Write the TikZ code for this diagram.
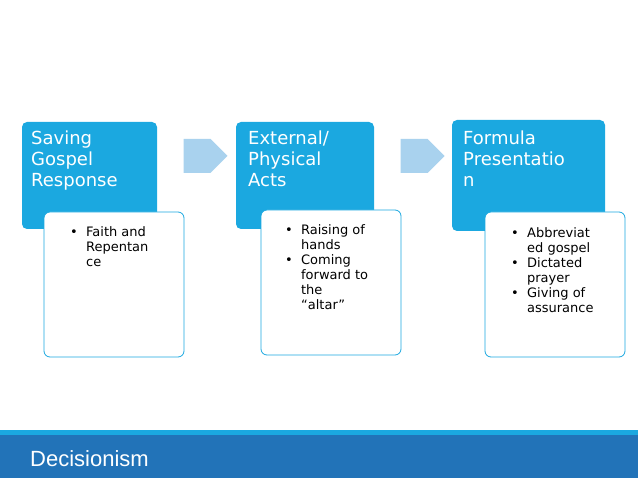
\documentclass[tikz,border=0pt]{standalone}
\usepackage{fontspec}
\setmainfont{DejaVu Sans}
\newfontfamily\arialf{Liberation Sans}
\usetikzlibrary{shapes.arrows}
\definecolor{cblue}{HTML}{1BA8E0}
\definecolor{barblue}{HTML}{2273B8}
\definecolor{arrblue}{HTML}{A9D2EE}
\begin{document}
\begin{tikzpicture}[x=1pt,y=-1pt,
  bluebox/.style={fill=cblue,rounded corners=5pt,anchor=north west,inner sep=0pt},
  whitebox/.style={fill=white,draw=cblue,line width=0.8pt,rounded corners=6pt},
  ttl/.style={anchor=north west,align=left,text=white,font=\fontsize{18}{21}\selectfont,inner sep=0pt},
  bul/.style={anchor=north west,align=left,font=\fontsize{13}{15}\selectfont,inner sep=0pt},
  harrow/.style={single arrow,fill=arrblue,minimum height=44pt,minimum width=34pt,single arrow head extend=0pt,inner sep=0pt,shape border rotate=0}]
\useasboundingbox (0,0) rectangle (638,478);
\fill[white] (0,0) rectangle (638,478);
% boxes 1
\fill[cblue,rounded corners=5pt] (22,122) rectangle (157,229);
\node[ttl] (t1) at (31,131) {Saving\\Gospel\\Response};
\draw[whitebox] (44,212) rectangle (184,357);
\node[bul] (b1) at (70,226) {\textbullet\ \ Faith and\\\phantom{\textbullet\ \ }Repentan\\\phantom{\textbullet\ \ }ce};
% boxes 2
\fill[cblue,rounded corners=5pt] (236,122) rectangle (374,229);
\node[ttl] (t2) at (248,131) {External/\\Physical\\Acts};
\draw[whitebox] (261,210) rectangle (401,355);
\node[bul] (b2) at (285,224) {\textbullet\ \ Raising of\\\phantom{\textbullet\ \ }hands\\\textbullet\ \ Coming\\\phantom{\textbullet\ \ }forward to\\\phantom{\textbullet\ \ }the\\\phantom{\textbullet\ \ }“altar”};
% boxes 3
\fill[cblue,rounded corners=5pt] (452,120) rectangle (605,231);
\node[ttl] (t3) at (463,131) {Formula\\Presentatio\\n};
\draw[whitebox] (485,212) rectangle (625,357);
\node[bul] (b3) at (511,227) {\textbullet\ \ Abbreviat\\\phantom{\textbullet\ \ }ed gospel\\\textbullet\ \ Dictated\\\phantom{\textbullet\ \ }prayer\\\textbullet\ \ Giving of\\\phantom{\textbullet\ \ }assurance};
% arrows
\node[harrow] (a1) at (197,156) {};
\node[harrow] (a2) at (414,156) {};
% bottom bar
\fill[cblue] (0,430) rectangle (638,435);
\fill[barblue] (0,435) rectangle (638,478);
\node[anchor=west,text=white,font=\arialf\fontsize{22}{24}\selectfont,inner sep=0pt] (dec) at (30,459) {Decisionism};
\end{tikzpicture}
\end{document}
